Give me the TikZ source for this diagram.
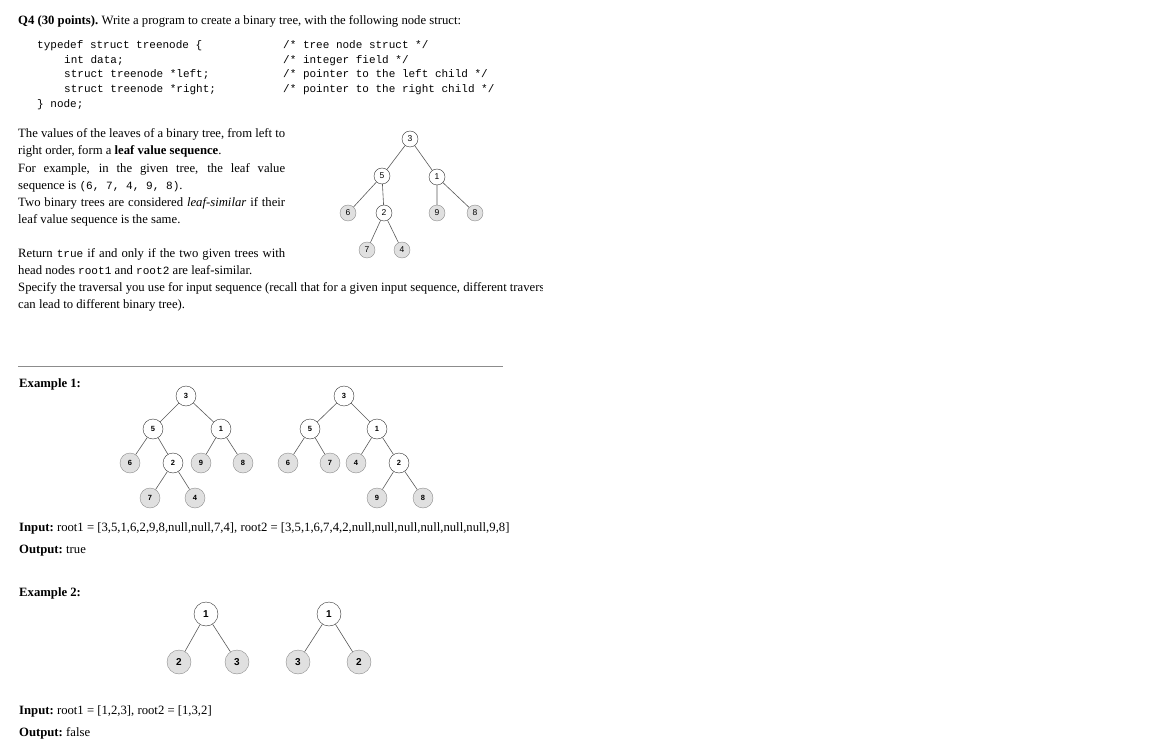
\documentclass[tikz,border=0pt]{standalone}
\usepackage{fontspec}
\setmainfont{Liberation Serif}
\setmonofont{Liberation Mono}
\setsansfont{Liberation Sans}
\begin{document}
\begin{tikzpicture}[x=1pt,y=-1pt,
  txt/.style={anchor=base west,inner sep=0pt,yshift=-1.5pt,font=\fontsize{12.7}{14}\selectfont},
  code/.style={anchor=base west,inner sep=0pt,yshift=-1pt,font=\ttfamily\fontsize{11}{12}\selectfont},
  inn/.style={circle,draw=black!80,fill=white,minimum size=#1,inner sep=0pt},
  lf/.style={circle,draw=black!45,fill=black!12,minimum size=#1,inner sep=0pt},
  edge/.style={draw=black!65,line width=0.6pt}]
\newcommand\mytt[1]{\texttt{\fontsize{11.1}{12}\selectfont #1}}
\useasboundingbox (0,0) rectangle (1152,754);
\node[txt] (t0) at (18,23) {\textbf{Q4 (30 points).}\hspace{-1pt} Write a program to create a binary tree, with the following node struct:};
\foreach \n/\x/\y/\s in {c1/37/48/{typedef struct treenode \{},c2/64/63/{int data;},c3/64/77/{struct treenode *left;},c4/64/92/{struct treenode *right;},c5/37/107/{\} node;},
  d1/283/48/{/* tree node struct */},d2/283/63/{/* integer field */},d3/283/77/{/* pointer to the left child */},d4/283/92/{/* pointer to the right child */}}
  \node[code] (\n) at (\x,\y) {\s};
\node[txt] (p1) at (18,136) {\makebox[267pt][s]{The values of the leaves of a binary tree, from left to}};
\node[txt] (p2) at (18,153) {right order, form a \textbf{leaf value sequence}.};
\node[txt] (p3) at (18,171) {\makebox[267pt][s]{For example, in the given tree, the leaf value}};
\node[txt] (p4) at (18,188) {sequence is \mytt{(6, 7, 4, 9, 8)}.};
\node[txt] (p5) at (18,205) {\makebox[267pt][s]{Two binary trees are considered \textit{leaf-similar} if their}};
\node[txt] (p6) at (18,222) {leaf value sequence is the same.};
\node[txt] (p7) at (18,256) {\makebox[267pt][s]{Return \mytt{true} if and only if the two given trees with}};
\node[txt] (p8) at (18,273) {head nodes \mytt{root1} and \mytt{root2} are leaf-similar.};
\begin{scope}
\clip (0,270) rectangle (542,300);
\node[txt] (p9) at (18,290) {Specify the traversal you use for input sequence (recall that for a given input sequence, different traversals};
\end{scope}
\node[txt] (p10) at (18,307) {can lead to different binary tree).};
\draw[black!45,line width=0.7pt] (18,366) -- (503,366);
% top tree
\begin{scope}[every node/.append style={font=\sffamily\fontsize{8.5}{9}\selectfont}]
\node[inn=16pt] (a3) at (410,139) {3};
\node[inn=16pt] (a5) at (382,176) {5};
\node[inn=16pt] (a1) at (437,177) {1};
\node[lf=16pt] (a6) at (348,213) {6};
\node[inn=16pt] (a2) at (384,213) {2};
\node[lf=16pt] (a9) at (437,213) {9};
\node[lf=16pt] (a8) at (475,213) {8};
\node[lf=16pt] (a7) at (367,250) {7};
\node[lf=16pt] (a4) at (402,250) {4};
\end{scope}
\draw[edge] (a3)--(a5) (a3)--(a1) (a5)--(a6) (a5)--(a2) (a1)--(a9) (a1)--(a8) (a2)--(a7) (a2)--(a4);
\node[txt] (e1) at (19,386) {\textbf{Example 1:}};
\begin{scope}[every node/.append style={font=\sffamily\bfseries\fontsize{7.5}{9}\selectfont}]
\node[inn=20pt] (b3) at (186,396) {3};
\node[inn=20pt] (b5) at (153,429) {5};
\node[inn=20pt] (b1) at (221,429) {1};
\node[lf=20pt] (b6) at (130,463) {6};
\node[inn=20pt] (b2) at (173,463) {2};
\node[lf=20pt] (b9) at (201,463) {9};
\node[lf=20pt] (b8) at (243,463) {8};
\node[lf=20pt] (b7) at (150,498) {7};
\node[lf=20pt] (b4) at (195,498) {4};
\node[inn=20pt] (c3) at (344,396) {3};
\node[inn=20pt] (c5) at (310,429) {5};
\node[inn=20pt] (c1) at (377,429) {1};
\node[lf=20pt] (c6) at (288,463) {6};
\node[lf=20pt] (c7) at (330,463) {7};
\node[lf=20pt] (c4) at (356,463) {4};
\node[inn=20pt] (c2) at (399,463) {2};
\node[lf=20pt] (c9) at (377,498) {9};
\node[lf=20pt] (c8) at (423,498) {8};
\end{scope}
\draw[edge] (b3)--(b5) (b3)--(b1) (b5)--(b6) (b5)--(b2) (b1)--(b9) (b1)--(b8) (b2)--(b7) (b2)--(b4);
\draw[edge] (c3)--(c5) (c3)--(c1) (c5)--(c6) (c5)--(c7) (c1)--(c4) (c1)--(c2) (c2)--(c9) (c2)--(c8);
\node[txt] (i1) at (19,530) {\textbf{Input:}\hspace{-1pt} root1 = [3,5,1,6,2,9,8,null,null,7,4], root2 = [3,5,1,6,7,4,2,null,null,null,null,null,null,9,8]};
\node[txt] (o1) at (19,552) {\textbf{Output:}\hspace{-1pt} true};
\node[txt] (e2) at (19,595) {\textbf{Example 2:}};
\begin{scope}[every node/.append style={font=\sffamily\bfseries\fontsize{10}{11}\selectfont}]
\node[inn=24pt] (d1) at (206,614) {1};
\node[lf=24pt] (d2) at (179,662) {2};
\node[lf=24pt] (d3) at (237,662) {3};
\node[inn=24pt] (f1) at (329,614) {1};
\node[lf=24pt] (f3) at (298,662) {3};
\node[lf=24pt] (f2) at (359,662) {2};
\end{scope}
\draw[edge] (d1)--(d2) (d1)--(d3) (f1)--(f3) (f1)--(f2);
\node[txt] (i2) at (19,713) {\textbf{Input:}\hspace{-1pt} root1 = [1,2,3], root2 = [1,3,2]};
\node[txt] (o2) at (19,735) {\textbf{Output:}\hspace{-1pt} false};
\end{tikzpicture}
\end{document}
